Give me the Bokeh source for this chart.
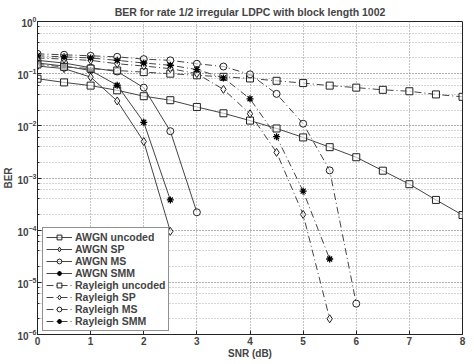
from bokeh.plotting import figure
from bokeh.models import Legend, LegendItem, FixedTicker, Range1d, LogTicker
from bokeh.embed import file_html
from bokeh.resources import INLINE

# ---- data ----
snr_full = [0, 0.5, 1, 1.5, 2, 2.5, 3, 3.5, 4, 4.5, 5, 5.5, 6, 6.5, 7, 7.5, 8]
awgn_uncoded = [0.08, 0.068, 0.059, 0.048, 0.037, 0.031, 0.023, 0.0174, 0.0126,
                0.0089, 0.006, 0.0039, 0.0025, 0.00138, 0.00076, 0.00038, 0.000195]
rayleigh_uncoded = [0.15, 0.135, 0.125, 0.115, 0.107, 0.1, 0.093, 0.087, 0.081,
                    0.073, 0.066, 0.059, 0.054, 0.049, 0.046, 0.04, 0.036]

snr_awgn_sp = [0, 0.5, 1, 1.5, 2, 2.5]
awgn_sp = [0.14, 0.125, 0.086, 0.03, 0.005, 9.5e-5]
snr_awgn_ms = [0, 0.5, 1, 1.5, 2, 2.5, 3]
awgn_ms = [0.18, 0.16, 0.13, 0.11, 0.054, 0.0079, 2.2e-4]
snr_awgn_smm = [0, 0.5, 1, 1.5, 2, 2.5]
awgn_smm = [0.16, 0.14, 0.115, 0.06, 0.0117, 3.8e-4]

snr_ray_sp = [0, 0.5, 1, 1.5, 2, 2.5, 3, 3.5, 4, 4.5, 5, 5.5]
ray_sp = [0.2, 0.19, 0.18, 0.155, 0.14, 0.125, 0.1, 0.05, 0.017, 0.0031, 2e-4, 2e-6]
snr_ray_ms = [0, 0.5, 1, 1.5, 2, 2.5, 3, 3.5, 4, 4.5, 5, 5.5, 6]
ray_ms = [0.24, 0.23, 0.22, 0.21, 0.19, 0.18, 0.155, 0.137, 0.097, 0.041, 0.011, 0.0014, 3.9e-6]
snr_ray_smm = [0, 0.5, 1, 1.5, 2, 2.5, 3, 3.5, 4, 4.5, 5, 5.5]
ray_smm = [0.22, 0.21, 0.2, 0.18, 0.16, 0.145, 0.12, 0.083, 0.033, 0.0062, 5.6e-4, 2.8e-5]

x_ticks = [0, 1, 2, 3, 4, 5, 6, 7, 8]

FONT = "Liberation Sans"

p = figure(width=474, height=364, y_axis_type="log",
           x_range=Range1d(0, 8), y_range=Range1d(1e-6, 1),
           output_backend="svg", toolbar_location=None,
           title="BER for rate 1/2 irregular LDPC with block length 1002",
           min_border_left=36, min_border_right=12, min_border_top=0, min_border_bottom=30)

p.title.align = "center"
p.title.text_font = FONT
p.title.text_font_size = "10.5px"
p.title.text_font_style = "bold"
p.title.standoff = 7
p.title.offset = 0

p.outline_line_color = "#222222"
p.background_fill_color = "white"

for ax in (p.xaxis[0], p.yaxis[0]):
    ax.major_label_text_font = FONT
    ax.major_label_text_font_size = "10px"
    ax.major_label_text_font_style = "bold"
    ax.axis_label_text_font = FONT
    ax.axis_label_text_font_size = "10px"
    ax.axis_label_text_font_style = "bold"
    ax.major_tick_in = 4
    ax.major_tick_out = 0
    ax.minor_tick_in = 2
    ax.minor_tick_out = 0
    ax.axis_line_color = "#222222"
    ax.major_tick_line_color = "#222222"
    ax.minor_tick_line_color = "#222222"
    ax.axis_label_standoff = 0

p.xaxis.major_label_standoff = 2
p.yaxis.major_label_standoff = 1
p.xaxis.ticker = FixedTicker(ticks=x_ticks)
p.yaxis.ticker = LogTicker(desired_num_ticks=7)
p.xaxis.axis_label = "SNR (dB)"
p.yaxis.axis_label = "BER"

p.xgrid.grid_line_color = "#888888"
p.xgrid.grid_line_dash = "1 2"
p.ygrid.grid_line_color = "#888888"
p.ygrid.grid_line_dash = "1 2"
p.ygrid.minor_grid_line_color = "#aaaaaa"
p.ygrid.minor_grid_line_dash = "1 2"

LC = "#444444"
SOLID = "solid"
DASHDOT = "7 3 1 3"

series = [
    ("AWGN uncoded", snr_full, awgn_uncoded, "square", SOLID, 7),
    ("AWGN SP", snr_awgn_sp, awgn_sp, "diamond", SOLID, 8),
    ("AWGN MS", snr_awgn_ms, awgn_ms, "circle", SOLID, 7),
    ("AWGN SMM", snr_awgn_smm, awgn_smm, "asterisk", SOLID, 7),
    ("Rayleigh uncoded", snr_full, rayleigh_uncoded, "square", DASHDOT, 7),
    ("Rayleigh SP", snr_ray_sp, ray_sp, "diamond", DASHDOT, 8),
    ("Rayleigh MS", snr_ray_ms, ray_ms, "circle", DASHDOT, 7),
    ("Rayleigh SMM", snr_ray_smm, ray_smm, "asterisk", DASHDOT, 7),
]

items = []
for label, xs, ys, marker, dash, size in series:
    lr = p.line(xs, ys, line_color=LC, line_width=1, line_dash=dash)
    if marker == "asterisk":
        sr = p.scatter(xs, ys, marker=marker, size=size, line_color="black", line_width=1.3)
    else:
        sr = p.scatter(xs, ys, marker=marker, size=size, line_color="#222222",
                       fill_color="white", fill_alpha=0.6, line_width=1)
    items.append(LegendItem(label=label, renderers=[lr, sr]))

legend = Legend(items=items, location=(5, 3))
legend.label_text_font = FONT
legend.label_text_font_size = "10.5px"
legend.label_text_font_style = "bold"
legend.glyph_height = 12
legend.glyph_width = 26
legend.label_height = 12
legend.spacing = 0
legend.padding = 3
legend.margin = 0
legend.label_standoff = 3
legend.border_line_color = "#222222"
legend.background_fill_alpha = 1.0
p.add_layout(legend, "center")

open("out.html", "w").write(file_html(p, INLINE))
